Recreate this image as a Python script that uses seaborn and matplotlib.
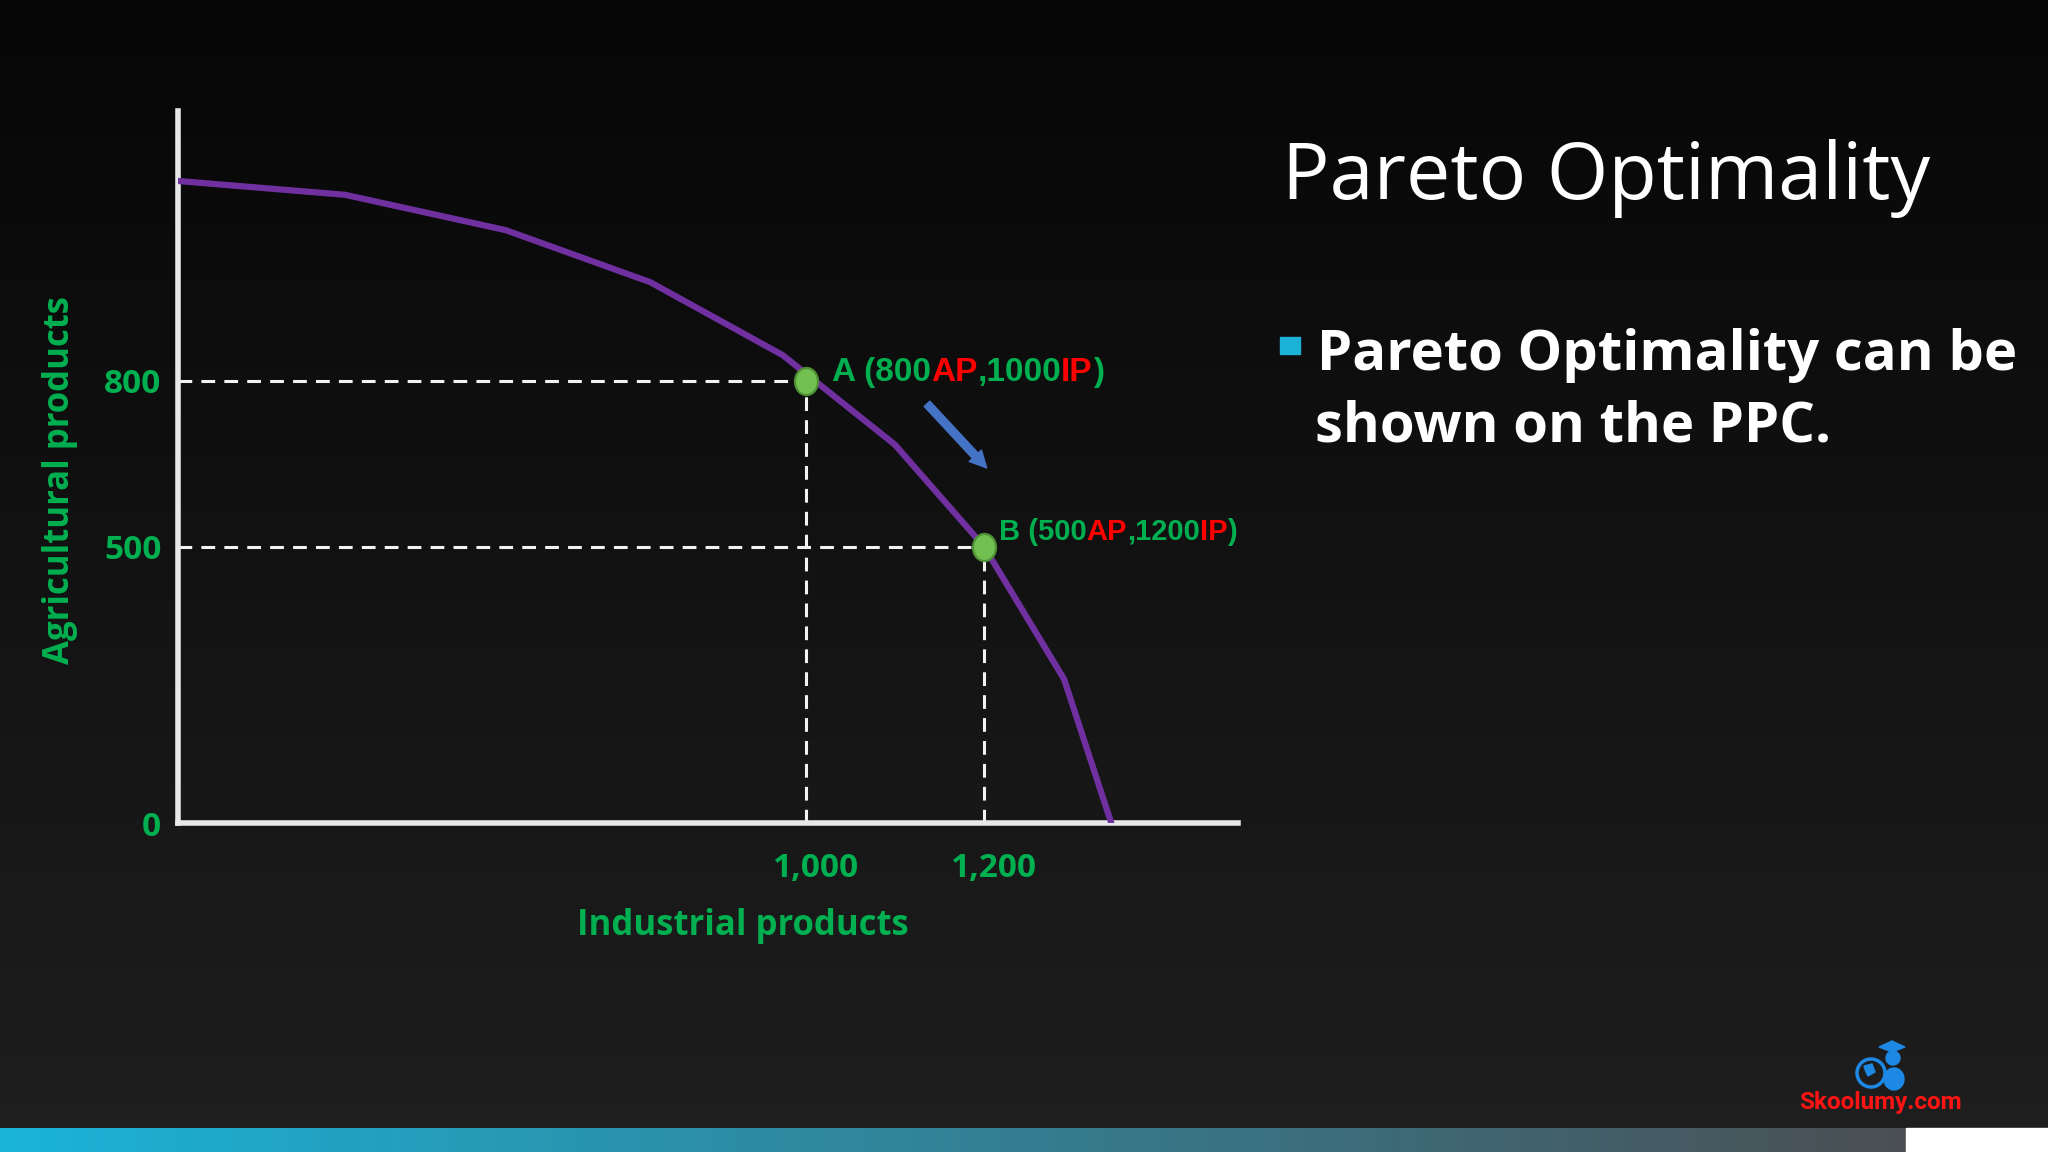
import numpy as np
import matplotlib
matplotlib.use("Agg")
import matplotlib.pyplot as plt
import seaborn as sns
from matplotlib.markers import MarkerStyle
from matplotlib.transforms import Affine2D, ScaledTranslation
from matplotlib.patches import Rectangle, Circle, Ellipse, Polygon

# ---------------- data ----------------
ppc_industrial = [0, 266, 522, 752, 963, 1100, 1200, 1290, 1343]
ppc_agricultural = [1161, 1136, 1072, 978, 846, 684, 500, 260, 0]

point_names = ["A", "B"]
point_industrial = [1000, 1200]
point_agricultural = [800, 500]

x_ticks = [1000, 1200]
x_tick_labels = ["1,000", "1,200"]
y_ticks = [0, 500, 800]
y_tick_labels = ["0", "500", "800"]

title_text = "Pareto Optimality"
bullet_lines = ["Pareto Optimality can be", "shown on the PPC."]

# ---------------- style ----------------
GREEN = "#00B050"
RED = "#FF0000"
PURPLE = "#7030A0"
DOT_FILL = "#72C052"
DOT_EDGE = "#4F9236"
ARROW = "#4472C4"
AXIS_COL = "#E8E8E8"

sns.set_theme(style="dark")
plt.rcParams["font.family"] = ["Open Sans", "DejaVu Sans"]

W, H = 2048, 1152
fig = plt.figure(figsize=(W / 100, H / 100), dpi=100)
fig.patch.set_facecolor("#0a0a0a")

# background (slide) axes in pixel coordinates
bg = fig.add_axes([0, 0, 1, 1], zorder=0)
bg.axis("off")
grad = np.linspace(0, 1, 256)[:, None]
top = np.array([6, 6, 6]) / 255
bot = np.array([31, 31, 31]) / 255
img = top + (bot - top) * (grad[..., None] ** 1.0)
img = np.repeat(img, 2, axis=1)
bg.imshow(img, extent=(0, W, H, 0), aspect="auto", zorder=0)
# bottom bar gradient
hg = np.linspace(0, 1, 256)[None, :, None]
c_left = np.array([0x1A, 0xB4, 0xD9]) / 255
c_right = np.array([0x4B, 0x4F, 0x53]) / 255
bar = c_left + (c_right - c_left) * hg
bar = np.repeat(bar, 2, axis=0)
bg.imshow(bar, extent=(0, 1906, H, 1128), aspect="auto", zorder=1)
bg.add_patch(Rectangle((1906, 1128), W - 1906, H - 1128, color="white", zorder=1))
bg.set_xlim(0, W)
bg.set_ylim(H, 0)

# logo
bg.text(1880, 1103, "Skoolumy.com", color="#FF1414", fontsize=17.5, fontweight="bold",
        family=["Roboto", "DejaVu Sans"], ha="center", va="center", zorder=3)
BLUE = "#1E88E5"
bg.add_patch(Circle((1871, 1073), 14, fill=False, ec=BLUE, lw=2.5, zorder=3))
bg.add_patch(Polygon([(1864, 1066), (1872, 1064), (1875, 1072), (1868, 1076), (1866, 1072)],
                     color=BLUE, zorder=3))
bg.add_patch(Ellipse((1894, 1079), 20, 22, color=BLUE, zorder=2))
bg.add_patch(Circle((1893, 1058), 7, color=BLUE, zorder=3))
bg.add_patch(Polygon([(1879, 1047), (1892, 1041), (1905, 1047), (1892, 1052)], color=BLUE, zorder=3))

# ---------------- chart axes ----------------
ax_left, ax_right, ax_bottom, ax_top = 178, 1238, 823, 111
ax = fig.add_axes([ax_left / W, 1 - ax_bottom / H, (ax_right - ax_left) / W,
                   (ax_bottom - ax_top) / H], zorder=2)
ax.set_facecolor("none")

# schematic (not-to-scale) industrial axis: piecewise-linear through the tick values
SCALE_VALUES = [-500, 0, 1000, 1200, 3000]
SCALE_POS = [-314, 0, 628, 806, 806 + 1800 * 0.89]


def fwd(v):
    return np.interp(v, SCALE_VALUES, SCALE_POS)


def inv(p):
    return np.interp(p, SCALE_POS, SCALE_VALUES)


ax.set_xscale("function", functions=(fwd, inv))
ax.set_xlim(0, inv(ax_right - ax_left))
ax.set_ylim(0, (ax_bottom - ax_top) / 0.553)

# guide lines
dash = (0, (4.5, 3))
ax.hlines(point_agricultural, 0, point_industrial, colors="#F2F2F2", linewidth=2.2,
          linestyles=[dash], zorder=2)
ax.vlines(point_industrial, 0, point_agricultural, colors="#F2F2F2", linewidth=2.2,
          linestyles=[dash], zorder=2)

# PPC curve
sns.lineplot(x=ppc_industrial, y=ppc_agricultural, sort=False, color=PURPLE,
             linewidth=4.5, ax=ax, zorder=3)

# points
ell = MarkerStyle("o", transform=Affine2D().scale(0.85, 1.0))
sns.scatterplot(x=point_industrial, y=point_agricultural, marker=ell, s=380,
                color=DOT_FILL, edgecolor=DOT_EDGE, linewidth=1.6, ax=ax, zorder=4)

# point labels (multi-coloured)
LABEL_FONT = ["Liberation Sans", "DejaVu Sans"]
label_offsets = [(18.7, 5.8), (10.8, 10.5)]
label_sizes = [24, 21]
for name, xi, yi, off, fs in zip(point_names, point_industrial, point_agricultural,
                                 label_offsets, label_sizes):
    parts = [(f"{name} ({yi}", GREEN), ("AP", RED), (f",{xi}", GREEN), ("IP", RED), (")", GREEN)]
    t = ax.annotate(parts[0][0], xy=(xi, yi), xytext=off, textcoords="offset points",
                    color=parts[0][1], fontsize=fs, fontweight="bold", family=LABEL_FONT,
                    ha="left", va="center", zorder=5)
    for s, c in parts[1:]:
        t = ax.annotate(s, xy=(1, 0), xycoords=t, color=c, fontsize=fs, family=LABEL_FONT,
                        fontweight="bold", ha="left", va="bottom", zorder=5)

# arrow from A towards B
ax.annotate("", xy=(1203, 642), xytext=(1136, 758),
            arrowprops=dict(arrowstyle="simple,head_length=0.6,head_width=0.6,tail_width=0.28",
                            color=ARROW, mutation_scale=20, shrinkA=0, shrinkB=0),
            zorder=5)

# axes styling
for sp in ["top", "right"]:
    ax.spines[sp].set_visible(False)
for sp in ["left", "bottom"]:
    ax.spines[sp].set_color(AXIS_COL)
    ax.spines[sp].set_linewidth(4)
ax.grid(False)
ax.set_xticks(x_ticks)
ax.set_xticklabels(x_tick_labels)
ax.set_yticks(y_ticks)
ax.set_yticklabels(y_tick_labels)
ax.tick_params(axis="both", length=0, labelsize=24, labelcolor=GREEN)
ax.tick_params(axis="x", pad=21)
ax.tick_params(axis="y", pad=12)
shift = ScaledTranslation(7 / 72, 0, fig.dpi_scale_trans)
for t in ax.get_xticklabels():
    t.set_fontweight("bold")
    t.set_transform(t.get_transform() + shift)
for t in ax.get_yticklabels():
    t.set_fontweight("bold")

ax.set_xlabel("Industrial products", fontsize=25, fontweight="bold", color=GREEN)
ax.xaxis.set_label_coords(0.533, -0.119)
ax.set_ylabel("Agricultural products", fontsize=25, fontweight="bold", color=GREEN)
ax.yaxis.set_label_coords(-0.094, 0.482)

# slide texts
fig.text(1282 / W, 1 - 199 / H, title_text, fontsize=57, color="white",
         ha="left", va="baseline")
fig.add_artist(Rectangle((1280 / W, 1 - 354 / H), 20 / W, 17 / H,
                         transform=fig.transFigure, color="#1CB2D8"))
fig.text(1317 / W, 1 - 370 / H, bullet_lines[0], fontsize=40.5, fontweight="bold",
         color="white", ha="left", va="baseline")
fig.text(1315 / W, 1 - 442 / H, bullet_lines[1], fontsize=40.5, fontweight="bold",
         color="white", ha="left", va="baseline")

fig.savefig("out.png", dpi=100, facecolor=fig.get_facecolor())
